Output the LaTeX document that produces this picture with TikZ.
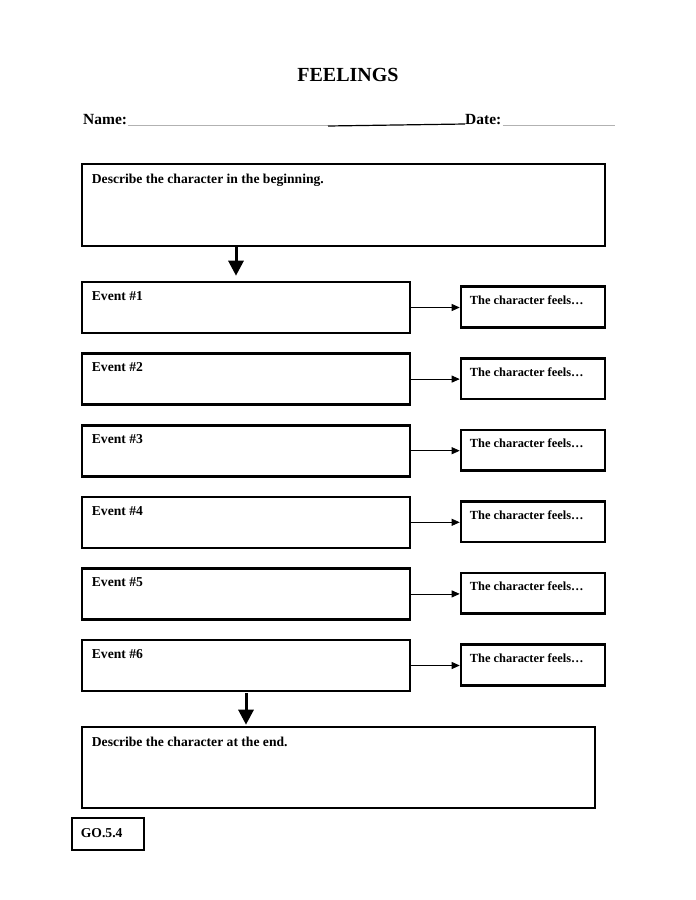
\documentclass[tikz,border=0pt]{standalone}
\usepackage{fontspec}
\setmainfont{Liberation Serif}
\usetikzlibrary{arrows.meta}
\tikzset{>=Stealth}
\tikzset{
    bigbox/.style = {draw, line width=2.6pt, inner sep=0pt},
    boxtext/.style = {anchor=base west, inner sep=0pt, font=\fontsize{13.6}{16}\bfseries},
    feeltext/.style = {anchor=base west, inner sep=0pt, font=\fontsize{12.4}{15}\bfseries},
    bigarrow/.style = {line width=3pt, -{Triangle[length=15pt,width=15pt]}},
    thinarrow/.style = {line width=0.8pt, -{Triangle[length=8pt,width=7pt]}}
}

\begin{document}
\begin{tikzpicture}[x=1pt, y=-1pt]
    \useasboundingbox (0,0) rectangle (696,900);

    % heading
    \node (title) at (348,75) {\fontsize{20}{24}\bfseries FEELINGS};
    \node [anchor=base west, inner sep=0pt] (name) at (83,124) {\fontsize{15.5}{18}\bfseries Name:};
    \node [anchor=base west, inner sep=0pt] (date) at (465,124) {\fontsize{15.5}{18}\bfseries Date:};
    \draw [gray!60, line width=0.6pt] (name.base east) ++(1,1) -- (328,125);
    \draw [line width=1.2pt] (328,126) -- (date.base west);
    \draw [gray!60, line width=0.6pt] (date.base east) ++(1,1) -- (615,125);

    % beginning
    \node [bigbox, minimum width=523pt, minimum height=82pt,
        label={[boxtext, xshift=11pt, yshift=-21pt]north west:Describe the character in the beginning.}]
        (start) at (343.5,205) {};

    % events and feelings
    \foreach \i in {1,...,6} {
        \node [bigbox, minimum width=328pt, minimum height=51pt,
            label={[boxtext, xshift=11pt, yshift=-19.5pt]north west:Event \#\i}]
            (event\i) at (246,{307.5+(\i-1)*71.6}) {};
        \node [bigbox, minimum width=144pt, minimum height=40.5pt,
            label={[feeltext, xshift=10pt, yshift=-19pt]north west:The character feels\dots}]
            (feel\i) at (533,{307+(\i-1)*71.6}) {};
        \draw [thinarrow] (event\i.east) -- (event\i.east -| feel\i.west);
    }

    % ending
    \node [bigbox, minimum width=513pt, minimum height=81pt,
        label={[boxtext, xshift=11pt, yshift=-20.5pt]north west:Describe the character at the end.}]
        (finish) at (338.5,767.5) {};

    \draw [bigarrow] ([xshift=-10pt]start.south -| event1.north) -- ([xshift=-10pt, yshift=5pt]event1.north);
    \draw [bigarrow] (event6.south) ++(0,1) -- ([yshift=1pt]event6.south |- finish.north);

    % code box
    \node [bigbox, minimum width=72pt, minimum height=32pt,
        label={[boxtext, xshift=10pt, yshift=-21pt]north west:GO.5.4}]
        (code) at (108,834) {};
\end{tikzpicture}
\end{document}
